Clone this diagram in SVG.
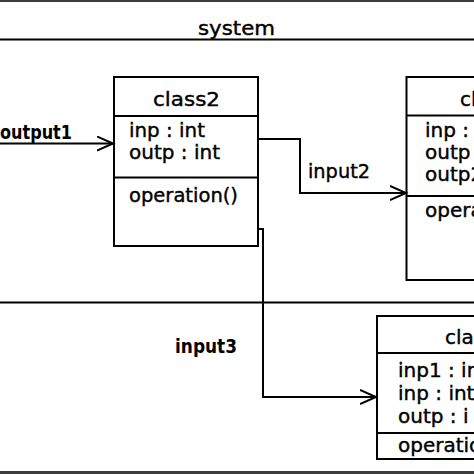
<svg xmlns="http://www.w3.org/2000/svg" width="474" height="474" viewBox="0 0 474 474">
<style>
  .t { font-family: "DejaVu Sans", "Liberation Sans", sans-serif; font-size: 20px; fill: #000; stroke: #000; stroke-width: 0.4; }
  .b { font-weight: bold; stroke-width: 0; }
  .box { fill: #fff; stroke: #000; stroke-width: 2; }
  .ln { stroke: #000; stroke-width: 2; fill: none; }
  .band { fill: #3c3c3c; }
</style>
<defs>
  <marker id="open" markerUnits="userSpaceOnUse" markerWidth="20" markerHeight="20" refX="16" refY="8" orient="auto" viewBox="0 0 20 20">
    <path d="M0,1 L16,8 L0,15" fill="none" stroke="#000" stroke-width="2"/>
  </marker>
</defs>
<rect width="474" height="474" fill="#fff"/>
<rect class="band" x="0" y="0" width="474" height="2"/>
<rect class="band" x="0" y="471" width="474" height="3"/>

<g id="system">
  <text class="t" x="198" y="35" textLength="77" lengthAdjust="spacingAndGlyphs">system</text>
  <line class="ln" x1="0" y1="39.5" x2="474" y2="39.5"/>
  <line class="ln" x1="0" y1="302.5" x2="474" y2="302.5"/>
</g>

<g id="class2">
  <rect class="box" x="114" y="77" width="144" height="169"/>
  <line class="ln" x1="114" y1="116" x2="258" y2="116"/>
  <line class="ln" x1="114" y1="177.5" x2="258" y2="177.5"/>
  <text class="t" x="153" y="106" textLength="67" lengthAdjust="spacingAndGlyphs">class2</text>
  <text class="t" x="129" y="137" textLength="76" lengthAdjust="spacingAndGlyphs">inp : int</text>
  <text class="t" x="129" y="159" textLength="91" lengthAdjust="spacingAndGlyphs">outp : int</text>
  <text class="t" x="129" y="202" textLength="109" lengthAdjust="spacingAndGlyphs">operation()</text>
</g>

<g id="class3">
  <rect class="box" x="406.5" y="77" width="100" height="203"/>
  <line class="ln" x1="406.5" y1="115.5" x2="474" y2="115.5"/>
  <line class="ln" x1="406.5" y1="196" x2="474" y2="196"/>
  <text class="t" x="460" y="106">cl</text>
  <text class="t" x="425" y="137">inp :</text>
  <text class="t" x="425" y="159">outp</text>
  <text class="t" x="425" y="181">outp2</text>
  <text class="t" x="425" y="217">opera</text>
</g>

<g id="class4">
  <rect class="box" x="377" y="316" width="120" height="143"/>
  <line class="ln" x1="377" y1="353" x2="474" y2="353"/>
  <line class="ln" x1="377" y1="433" x2="474" y2="433"/>
  <text class="t" x="445" y="344">cla</text>
  <text class="t" x="398" y="377">inp1 : in</text>
  <text class="t" x="398" y="400">inp : int</text>
  <text class="t" x="398" y="423">outp : i</text>
  <text class="t" x="398" y="452">operatio</text>
</g>

<g id="connectors">
  <line class="ln" x1="0" y1="143.5" x2="113" y2="143.5" marker-end="url(#open)"/>
  <polyline class="ln" points="258,139 300,139 300,193 406,193" marker-end="url(#open)"/>
  <polyline class="ln" points="258,229 263,229 263,397 376,397" marker-end="url(#open)"/>
  <text class="t b" x="0" y="139" textLength="72" lengthAdjust="spacingAndGlyphs">output1</text>
  <text class="t" x="308" y="178" textLength="62" lengthAdjust="spacingAndGlyphs">input2</text>
  <text class="t b" x="175" y="353" textLength="62" lengthAdjust="spacingAndGlyphs">input3</text>
</g>
</svg>
